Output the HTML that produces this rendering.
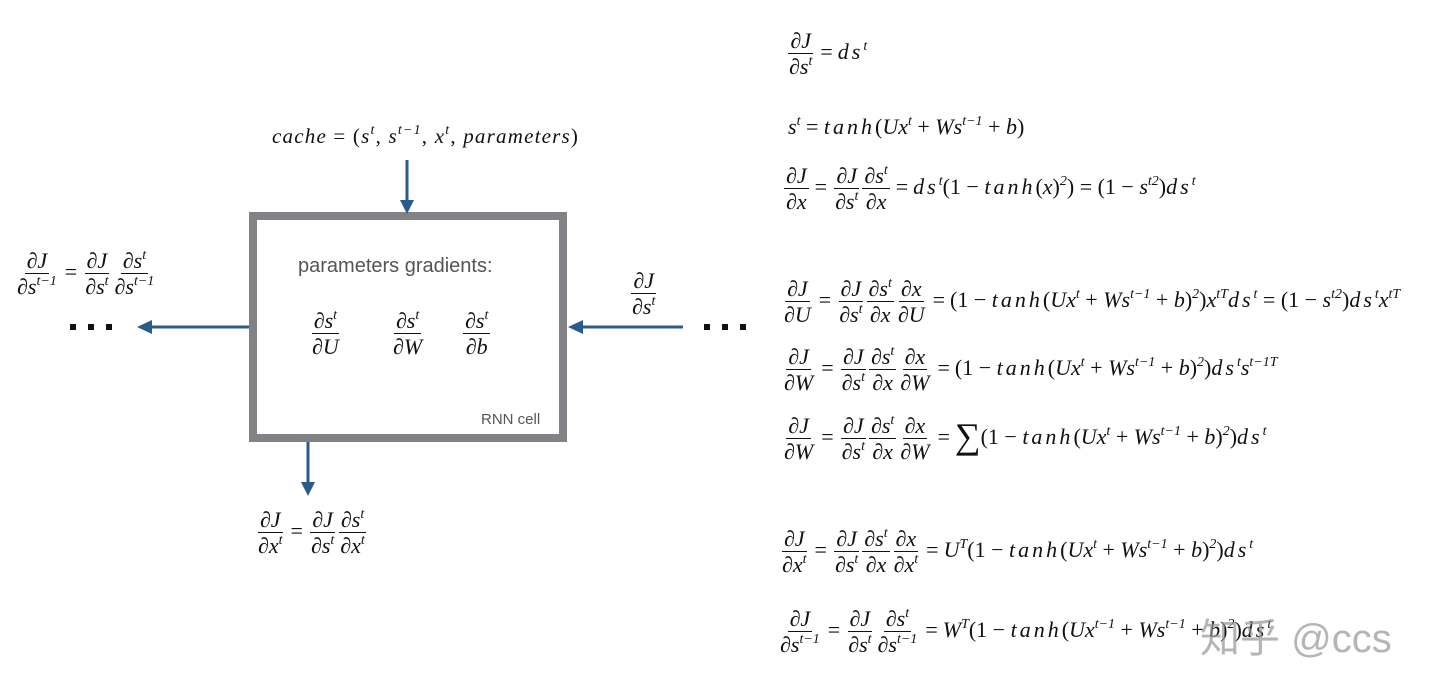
<!DOCTYPE html>
<html><head><meta charset="utf-8"><style>
body{margin:0;background:#fff;width:1440px;height:691px;overflow:hidden;position:relative;font-family:"Liberation Serif",serif;color:#111}
.eq{position:absolute;height:60px;line-height:60px;font-size:22px;white-space:nowrap}
.f{display:inline-flex;flex-direction:column;align-items:center;margin:0 1px;font-style:italic;vertical-align:middle;line-height:25px}
.f>span{padding:0 2px}
.f>span:first-child{border-bottom:1.3px solid #111}
i{font-style:italic}
sup{font-size:14px;font-style:italic;vertical-align:9px;line-height:0}
.op{margin:0 5px}
.sans{font-family:"Liberation Sans",sans-serif}
.t{letter-spacing:3px}
</style></head><body>
<svg width="1440" height="691" style="position:absolute;left:0;top:0">
<rect x="253" y="216" width="310" height="222" fill="none" stroke="#808285" stroke-width="8"/>
<g stroke="#2a5b8c" stroke-width="3" fill="#2a5b8c">
<line x1="407" y1="160" x2="407" y2="205"/><polygon points="400,200 414,200 407,214" stroke="none"/>
<line x1="249" y1="327" x2="148" y2="327"/><polygon points="137,327 152,320 152,334" stroke="none"/>
<line x1="683" y1="327" x2="580" y2="327"/><polygon points="568,327 583,320 583,334" stroke="none"/>
<line x1="308" y1="442" x2="308" y2="485"/><polygon points="301,482 315,482 308,496" stroke="none"/>
</g>
<g fill="#111"><rect x="70" y="324" width="6" height="6"/><rect x="88" y="324" width="6" height="6"/><rect x="106" y="324" width="6" height="6"/>
<rect x="704" y="324" width="6" height="6"/><rect x="722" y="324" width="6" height="6"/><rect x="740" y="324" width="6" height="6"/></g>
</svg>
<div class="eq" style="left:272px;top:106px;font-size:21px;letter-spacing:1.2px"><i>cache</i> = (<i>s</i><sup>t</sup>, <i>s</i><sup>t−1</sup>, <i>x</i><sup>t</sup>, <i>parameters</i>)</div>
<div class="sans" style="position:absolute;left:298px;top:255px;font-size:20px;color:#555">parameters gradients:</div>
<div class="sans" style="position:absolute;left:481px;top:411px;font-size:15px;color:#555">RNN cell</div>
<div class="eq" style="left:309px;top:302px"><span class="f"><span>∂s<sup>t</sup></span><span>∂U</span></span></div>
<div class="eq" style="left:390px;top:302px"><span class="f"><span>∂s<sup>t</sup></span><span>∂W</span></span></div>
<div class="eq" style="left:462px;top:302px"><span class="f"><span>∂s<sup>t</sup></span><span>∂b</span></span></div>
<div class="eq" style="left:14px;top:242px"><span class="f"><span>∂J</span><span>∂s<sup>t−1</sup></span></span><span class="op">=</span><span class="f"><span>∂J</span><span>∂s<sup>t</sup></span></span><span class="f"><span>∂s<sup>t</sup></span><span>∂s<sup>t−1</sup></span></span></div>
<div class="eq" style="left:629px;top:262px"><span class="f"><span>∂J</span><span>∂s<sup>t</sup></span></span></div>
<div class="eq" style="left:255px;top:501px"><span class="f"><span>∂J</span><span>∂x<sup>t</sup></span></span><span class="op">=</span><span class="f"><span>∂J</span><span>∂s<sup>t</sup></span></span><span class="f"><span>∂s<sup>t</sup></span><span>∂x<sup>t</sup></span></span></div>

<div class="eq" style="left:786px;top:22px"><span class="f"><span>∂J</span><span>∂s<sup>t</sup></span></span><span class="op">=</span><i class="t">ds</i><sup>t</sup></div>
<div class="eq" style="left:788px;top:97px"><i>s</i><sup>t</sup> = <i class="t">tanh</i>(<i>Ux</i><sup>t</sup> + <i>Ws</i><sup>t−1</sup> + <i>b</i>)</div>
<div class="eq" style="left:783px;top:157px"><span class="f"><span>∂J</span><span>∂x</span></span><span class="op">=</span><span class="f"><span>∂J</span><span>∂s<sup>t</sup></span></span><span class="f"><span>∂s<sup>t</sup></span><span>∂x</span></span><span class="op">=</span><i class="t">ds</i><sup>t</sup>(1 − <i class="t">tanh</i>(<i>x</i>)<sup>2</sup>) = (1 − <i>s</i><sup>t2</sup>)<i class="t">ds</i><sup>t</sup></div>
<div class="eq" style="left:781px;top:270px"><span class="f"><span>∂J</span><span>∂U</span></span><span class="op">=</span><span class="f"><span>∂J</span><span>∂s<sup>t</sup></span></span><span class="f"><span>∂s<sup>t</sup></span><span>∂x</span></span><span class="f"><span>∂x</span><span>∂U</span></span><span class="op">=</span>(1 − <i class="t">tanh</i>(<i>Ux</i><sup>t</sup> + <i>Ws</i><sup>t−1</sup> + <i>b</i>)<sup>2</sup>)<i>x</i><sup>tT</sup><i class="t">ds</i><sup>t</sup> = (1 − <i>s</i><sup>t2</sup>)<i class="t">ds</i><sup>t</sup><i>x</i><sup>tT</sup></div>
<div class="eq" style="left:781px;top:338px"><span class="f"><span>∂J</span><span>∂W</span></span><span class="op">=</span><span class="f"><span>∂J</span><span>∂s<sup>t</sup></span></span><span class="f"><span>∂s<sup>t</sup></span><span>∂x</span></span><span class="f"><span>∂x</span><span>∂W</span></span><span class="op">=</span>(1 − <i class="t">tanh</i>(<i>Ux</i><sup>t</sup> + <i>Ws</i><sup>t−1</sup> + <i>b</i>)<sup>2</sup>)<i class="t">ds</i><sup>t</sup><i>s</i><sup>t−1T</sup></div>
<div class="eq" style="left:781px;top:406px"><span class="f"><span>∂J</span><span>∂W</span></span><span class="op">=</span><span class="f"><span>∂J</span><span>∂s<sup>t</sup></span></span><span class="f"><span>∂s<sup>t</sup></span><span>∂x</span></span><span class="f"><span>∂x</span><span>∂W</span></span><span class="op">=</span><span style="font-size:36px;vertical-align:-4px">∑</span>(1 − <i class="t">tanh</i>(<i>Ux</i><sup>t</sup> + <i>Ws</i><sup>t−1</sup> + <i>b</i>)<sup>2</sup>)<i class="t">ds</i><sup>t</sup></div>
<div class="eq" style="left:779px;top:520px"><span class="f"><span>∂J</span><span>∂x<sup>t</sup></span></span><span class="op">=</span><span class="f"><span>∂J</span><span>∂s<sup>t</sup></span></span><span class="f"><span>∂s<sup>t</sup></span><span>∂x</span></span><span class="f"><span>∂x</span><span>∂x<sup>t</sup></span></span><span class="op">=</span><i>U</i><sup>T</sup>(1 − <i class="t">tanh</i>(<i>Ux</i><sup>t</sup> + <i>Ws</i><sup>t−1</sup> + <i>b</i>)<sup>2</sup>)<i class="t">ds</i><sup>t</sup></div>
<div class="eq" style="left:777px;top:600px"><span class="f"><span>∂J</span><span>∂s<sup>t−1</sup></span></span><span class="op">=</span><span class="f"><span>∂J</span><span>∂s<sup>t</sup></span></span><span class="f"><span>∂s<sup>t</sup></span><span>∂s<sup>t−1</sup></span></span><span class="op">=</span><i>W</i><sup>T</sup>(1 − <i class="t">tanh</i>(<i>Ux</i><sup>t−1</sup> + <i>Ws</i><sup>t−1</sup> + <i>b</i>)<sup>2</sup>)<i class="t">ds</i><sup>t</sup></div>
<div style="position:absolute;left:1200px;top:606px;font-size:40px;color:rgba(150,150,150,0.7);font-family:'Liberation Sans','Noto Sans CJK SC',sans-serif">知乎 @ccs</div>
</body></html>
